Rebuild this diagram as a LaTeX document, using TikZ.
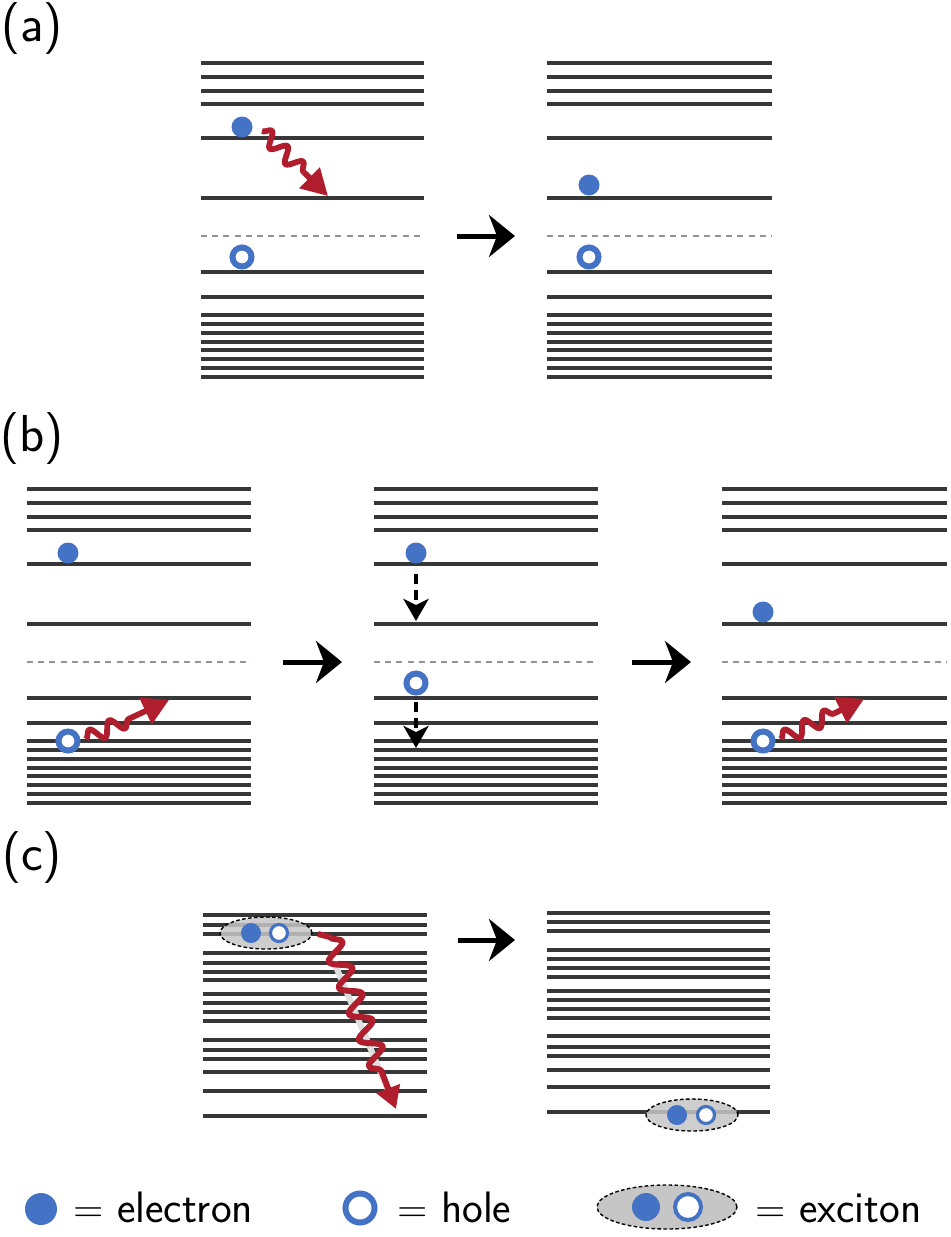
\documentclass[tikz,border=0pt]{standalone}
\usetikzlibrary{arrows.meta,decorations.pathmorphing,shapes.geometric,calc}
\definecolor{eblue}{RGB}{68,114,196}
\definecolor{pred}{RGB}{176,30,45}
\definecolor{lvl}{RGB}{55,55,55}
\tikzset{
  level/.style={draw=lvl, line width=1.7pt},
  gapline/.style={draw=gray!85, line width=0.9pt, dash pattern=on 3pt off 2.6pt},
  electron/.style={circle, fill=eblue, inner sep=0pt, minimum size=10.5pt},
  hole/.style={circle, draw=eblue, fill=white, line width=3pt, inner sep=0pt, minimum size=9.5pt},
  selectron/.style={circle, fill=eblue, inner sep=0pt, minimum size=10pt},
  shole/.style={circle, draw=eblue, fill=white, line width=1.6pt, inner sep=0pt, minimum size=8.5pt},
  exciton/.style={ellipse, draw=black, fill=gray!45, fill opacity=0.85, line width=0.7pt, dash pattern=on 1.8pt off 1.2pt, inner sep=0pt},
  steparrow/.style={draw=black, line width=2.5pt, -{Stealth[length=13pt,width=21pt,inset=4pt]}},
  dasharrow/.style={draw=black, line width=2pt, dash pattern=on 5pt off 3pt, -{Stealth[length=11pt,width=12.5pt,inset=3pt]}},
  wave/.style={draw=pred, line width=2.9pt, line join=round, decorate, decoration={snake, amplitude=3.6pt, segment length=11pt, pre length=0pt, post length=0pt}},
  bigwave/.style={draw=pred, line width=3pt, line join=round, decorate, decoration={snake, amplitude=5pt, segment length=14pt, pre length=0pt, post length=0pt}},
  photonhead/.style={draw=pred, line width=2.9pt, -{Triangle[length=13pt,width=14pt]}},
  bigphotonhead/.style={draw=pred, line width=3pt, -{Triangle[length=11pt,width=12pt]}},
  plabel/.style={font=\sffamily\fontsize{26}{30}\selectfont, inner sep=0pt},
  ltext/.style={font=\sffamily\fontsize{22}{26}\selectfont, inner sep=0pt, anchor=base west}
}
\begin{document}
\begin{tikzpicture}[x=0.5pt, y=-0.5pt]
\useasboundingbox (0,0) rectangle (950,1237);

% ---------- labels
\node[plabel] (la) at (32,29) {(a)};
\node[plabel] (lb) at (32,439) {(b)};
\node[plabel] (lc) at (32,858) {(c)};

% ---------- panel (a)
\foreach \xa/\xb in {201/424, 547/772}{
  \foreach \y in {63,77,91,104,138,198,272,297,315,324,333,342,350,359,368,377}
    \draw[level] (\xa,\y) -- (\xb,\y);
  \draw[gapline] (\xa,236) -- (\xb,236);
}
\node[electron] (ea1) at (242,127) {};
\node[hole] (ha1) at (242,257) {};
\coordinate (pa1s) at (262,131);
\coordinate (pa1e) at (328,196);
\coordinate (pa1m) at ($(pa1e)!17pt!(pa1s)$);
\draw[wave] (pa1s) -- (pa1m);
\draw[photonhead] (pa1m) -- (pa1e);
\node[electron] (ea2) at (589,185) {};
\node[hole] (ha2) at (589,257) {};
\coordinate (sa1) at (457,236);
\coordinate (sa2) at (515,236);
\draw[steparrow] (sa1) -- (sa2);

% ---------- panel (b)
\foreach \xa/\xb in {27/251, 374/598, 722/947}{
  \foreach \y in {489,503,517,530,564,624,698,723,741,750,759,768,776,785,794,803}
    \draw[level] (\xa,\y) -- (\xb,\y);
  \draw[gapline] (\xa,662) -- (\xb,662);
}
% left
\node[electron] (eb1) at (68,553) {};
\node[hole] (hb1) at (68,741) {};
\coordinate (pb1s) at (86,739);
\coordinate (pb1e) at (169,700);
\coordinate (pb1m) at ($(pb1e)!17pt!(pb1s)$);
\draw[wave] (pb1s) -- (pb1m);
\draw[photonhead] (pb1m) -- (pb1e);
% middle
\node[electron] (eb2) at (416,553) {};
\node[hole] (hb2) at (416,683) {};
\coordinate (db1s) at (416,574);
\coordinate (db1e) at (416,621);
\coordinate (db2s) at (416,702);
\coordinate (db2e) at (416,748);
\draw[dasharrow] (db1s) -- (db1e);
\draw[dasharrow] (db2s) -- (db2e);
% right
\node[electron] (eb3) at (763,612) {};
\node[hole] (hb3) at (763,741) {};
\coordinate (pb3s) at (781,739);
\coordinate (pb3e) at (864,699);
\coordinate (pb3m) at ($(pb3e)!17pt!(pb3s)$);
\draw[wave] (pb3s) -- (pb3m);
\draw[photonhead] (pb3m) -- (pb3e);
% step arrows
\coordinate (sb1) at (283,662);
\coordinate (sb2) at (342,662);
\coordinate (sb3) at (632,662);
\coordinate (sb4) at (691,662);
\draw[steparrow] (sb1) -- (sb2);
\draw[steparrow] (sb3) -- (sb4);

% ---------- panel (c)
\foreach \y in {915,925,934,953,963,972,980,994,1003,1012,1021,1040,1050,1059,1072,1091,1116}
  \draw[level] (203,\y) -- (427,\y);
\foreach \y in {913,922,931,950,959,968,977,991,1000,1009,1018,1036,1047,1056,1070,1087,1112}
  \draw[level] (547,\y) -- (770,\y);
% left exciton and photon
\node[exciton, minimum width=46pt, minimum height=16pt] (xc1) at (266,933) {};
\node[selectron] (ec1) at (251,933) {};
\node[shole] (hc1) at (279,933) {};
\coordinate (shs) at (334,962);
\coordinate (she) at (388,1090);
\draw[gray!25, line width=3pt] (shs) -- (she);
\coordinate (pc1s) at (318,934);
\coordinate (pc1a) at (330,937);
\coordinate (pc1e) at (396,1109);
\coordinate (pc1m) at ($(pc1e)!14pt!(pc1a)$);
\draw[pred, line width=3pt] (pc1s) -- (pc1a);
\draw[bigwave] (pc1a) -- (pc1m);
\draw[bigphotonhead] (pc1m) -- (pc1e);
% right exciton
\node[exciton, minimum width=46pt, minimum height=16pt] (xc2) at (692,1115) {};
\node[selectron] (ec2) at (677,1115) {};
\node[shole] (hc2) at (706,1115) {};
\coordinate (sc1) at (458,940);
\coordinate (sc2) at (515,940);
\draw[steparrow] (sc1) -- (sc2);

% ---------- legend
\node[electron, minimum size=16pt] (le) at (41,1209) {};
\node[ltext] (lte) at (73,1222) {$=$ electron};
\node[hole, minimum size=14.5pt] (lh) at (360,1208) {};
\node[ltext] (lth) at (397,1222) {$=$ hole};
\node[exciton, minimum width=70pt, minimum height=22pt, fill opacity=1] (lx) at (667,1207) {};
\node[electron, minimum size=14pt] (lxe) at (646,1207) {};
\node[hole, line width=2pt, minimum size=13pt] (lxh) at (688,1207) {};
\node[ltext] (ltx) at (755,1222) {$=$ exciton};
\end{tikzpicture}
\end{document}
